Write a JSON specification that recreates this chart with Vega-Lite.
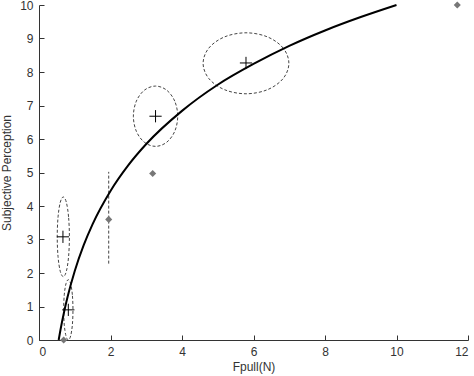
{
  "$schema": "https://vega.github.io/schema/vega-lite/v6.json",
  "autosize": "none",
  "width": 429,
  "height": 335,
  "padding": {"left": 39, "top": 5, "right": 6, "bottom": 36},
  "background": "white",
  "config": {
    "view": {"stroke": null},
    "font": "Liberation Sans",
    "axis": {
      "grid": false,
      "domainColor": "#333",
      "tickColor": "#333",
      "tickSize": -5,
      "labelColor": "#333",
      "titleColor": "#333",
      "labelFont": "Liberation Sans",
      "titleFont": "Liberation Sans",
      "labelFontSize": 12,
      "titleFontSize": 12,
      "titleFontWeight": "normal",
      "labelOverlap": false
    }
  },
  "datasets": {
    "curve": [
      {"x": 0.55, "y": 0}, {"x": 0.6, "y": 0.3}, {"x": 0.7, "y": 0.83}, {"x": 0.8, "y": 1.29},
      {"x": 1.0, "y": 2.06}, {"x": 1.25, "y": 2.83}, {"x": 1.5, "y": 3.46}, {"x": 2.0, "y": 4.45},
      {"x": 2.5, "y": 5.22}, {"x": 3.0, "y": 5.85}, {"x": 4.0, "y": 6.84}, {"x": 5.0, "y": 7.62},
      {"x": 6.0, "y": 8.24}, {"x": 7.0, "y": 8.78}, {"x": 8.0, "y": 9.24}, {"x": 9.0, "y": 9.64},
      {"x": 10.0, "y": 10.0}
    ],
    "ellipses": [
      {"e": "A", "i": 0, "x": 0.85, "y": 3.08}, {"e": "A", "i": 1, "x": 0.827, "y": 3.675},
      {"e": "A", "i": 2, "x": 0.765, "y": 4.11}, {"e": "A", "i": 3, "x": 0.68, "y": 4.27},
      {"e": "A", "i": 4, "x": 0.595, "y": 4.11}, {"e": "A", "i": 5, "x": 0.533, "y": 3.675},
      {"e": "A", "i": 6, "x": 0.51, "y": 3.08}, {"e": "A", "i": 7, "x": 0.533, "y": 2.485},
      {"e": "A", "i": 8, "x": 0.595, "y": 2.05}, {"e": "A", "i": 9, "x": 0.68, "y": 1.89},
      {"e": "A", "i": 10, "x": 0.765, "y": 2.05}, {"e": "A", "i": 11, "x": 0.827, "y": 2.485},
      {"e": "B", "i": 0, "x": 0.95, "y": 0.9}, {"e": "B", "i": 1, "x": 0.933, "y": 1.35},
      {"e": "B", "i": 2, "x": 0.885, "y": 1.68}, {"e": "B", "i": 3, "x": 0.82, "y": 1.8},
      {"e": "B", "i": 4, "x": 0.755, "y": 1.68}, {"e": "B", "i": 5, "x": 0.707, "y": 1.35},
      {"e": "B", "i": 6, "x": 0.69, "y": 0.9}, {"e": "B", "i": 7, "x": 0.707, "y": 0.45},
      {"e": "B", "i": 8, "x": 0.755, "y": 0.12}, {"e": "B", "i": 9, "x": 0.82, "y": 0.0},
      {"e": "B", "i": 10, "x": 0.885, "y": 0.12}, {"e": "B", "i": 11, "x": 0.933, "y": 0.45},
      {"e": "C", "i": 0, "x": 3.88, "y": 6.68}, {"e": "C", "i": 1, "x": 3.797, "y": 7.13},
      {"e": "C", "i": 2, "x": 3.57, "y": 7.459}, {"e": "C", "i": 3, "x": 3.26, "y": 7.58},
      {"e": "C", "i": 4, "x": 2.95, "y": 7.459}, {"e": "C", "i": 5, "x": 2.723, "y": 7.13},
      {"e": "C", "i": 6, "x": 2.64, "y": 6.68}, {"e": "C", "i": 7, "x": 2.723, "y": 6.23},
      {"e": "C", "i": 8, "x": 2.95, "y": 5.901}, {"e": "C", "i": 9, "x": 3.26, "y": 5.78},
      {"e": "C", "i": 10, "x": 3.57, "y": 5.901}, {"e": "C", "i": 11, "x": 3.797, "y": 6.23},
      {"e": "D", "i": 0, "x": 6.99, "y": 8.26}, {"e": "D", "i": 1, "x": 6.829, "y": 8.715},
      {"e": "D", "i": 2, "x": 6.39, "y": 9.048}, {"e": "D", "i": 3, "x": 5.79, "y": 9.17},
      {"e": "D", "i": 4, "x": 5.19, "y": 9.048}, {"e": "D", "i": 5, "x": 4.751, "y": 8.715},
      {"e": "D", "i": 6, "x": 4.59, "y": 8.26}, {"e": "D", "i": 7, "x": 4.751, "y": 7.805},
      {"e": "D", "i": 8, "x": 5.19, "y": 7.472}, {"e": "D", "i": 9, "x": 5.79, "y": 7.35},
      {"e": "D", "i": 10, "x": 6.39, "y": 7.472}, {"e": "D", "i": 11, "x": 6.829, "y": 7.805}
    ],
    "errbar": [{"x": 1.95, "y": 2.28, "y2": 5.02}],
    "diamonds": [
      {"x": 0.69, "y": 0}, {"x": 1.95, "y": 3.6}, {"x": 3.18, "y": 4.97}, {"x": 11.7, "y": 10}
    ],
    "plus": [
      {"x": 0.67, "y": 3.08}, {"x": 0.82, "y": 0.9}, {"x": 3.26, "y": 6.68}, {"x": 5.79, "y": 8.27}
    ]
  },
  "encoding": {
    "x": {"type": "quantitative", "scale": {"domain": [0, 12], "nice": false},
      "axis": {"values": [0, 2, 4, 6, 8, 10, 12], "title": "Fpull(N)", "labelPadding": 11, "titlePadding": 4}},
    "y": {"type": "quantitative", "scale": {"domain": [0, 10], "nice": false},
      "axis": {"values": [0, 1, 2, 3, 4, 5, 6, 7, 8, 9, 10], "title": "Subjective Perception", "labelPadding": 11, "titlePadding": 6, "labelFlush": false}}
  },
  "layer": [
    {
      "data": {"name": "ellipses"},
      "mark": {"type": "line", "interpolate": "cardinal-closed", "color": "#444", "strokeWidth": 1, "strokeDash": [3, 2]},
      "encoding": {
        "x": {"field": "x", "type": "quantitative"},
        "y": {"field": "y", "type": "quantitative"},
        "detail": {"field": "e"},
        "order": {"field": "i", "type": "quantitative"}
      }
    },
    {
      "data": {"name": "errbar"},
      "mark": {"type": "rule", "color": "#444", "strokeWidth": 1, "strokeDash": [3, 2]},
      "encoding": {
        "x": {"field": "x", "type": "quantitative"},
        "y": {"field": "y", "type": "quantitative"},
        "y2": {"field": "y2"}
      }
    },
    {
      "data": {"name": "curve"},
      "mark": {"type": "line", "interpolate": "monotone", "color": "black", "strokeWidth": 2},
      "encoding": {
        "x": {"field": "x", "type": "quantitative"},
        "y": {"field": "y", "type": "quantitative"}
      }
    },
    {
      "data": {"name": "diamonds"},
      "mark": {"type": "point", "shape": "diamond", "filled": true, "color": "#777", "size": 50, "opacity": 1},
      "encoding": {
        "x": {"field": "x", "type": "quantitative"},
        "y": {"field": "y", "type": "quantitative"}
      }
    },
    {
      "data": {"name": "plus"},
      "mark": {"type": "point", "shape": "M-1,0H1M0,-1V1", "filled": false, "color": "black", "strokeWidth": 1, "size": 150, "opacity": 1},
      "encoding": {
        "x": {"field": "x", "type": "quantitative"},
        "y": {"field": "y", "type": "quantitative"}
      }
    }
  ]
}
